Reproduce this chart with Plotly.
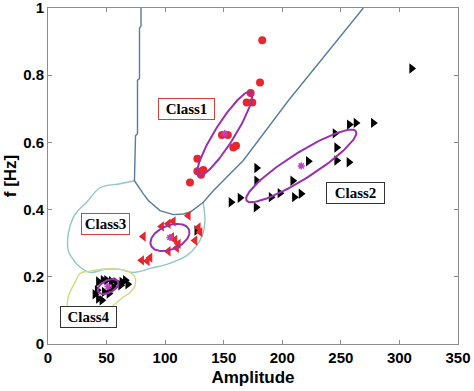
import numpy as np
import plotly.graph_objects as go

# ---------------- data ----------------
x_ticks = [0, 50, 100, 150, 200, 250, 300, 350]
y_ticks = [0, 0.2, 0.4, 0.6, 0.8, 1]
y_tick_text = ["0", "0.2", "0.4", "0.6", "0.8", "1"]

class1_x = [182.9, 181.0, 173.0, 169.6, 174.4, 148.5, 153.5, 158.2, 160.5, 127.5, 127.5, 132.6, 121.2, 130.6]
class1_y = [0.904, 0.778, 0.747, 0.719, 0.719, 0.622, 0.622, 0.585, 0.590, 0.551, 0.514, 0.518, 0.481, 0.504]

class2_x = [310.4, 257.2, 262.9, 277.7, 245.0, 246.4, 246.4, 256.9, 222.2, 208.9, 178.1, 178.1,
            156.2, 163.9, 177.6, 190.4, 198.0, 210.3, 216.0, 127.0]
class2_y = [0.820, 0.653, 0.658, 0.658, 0.627, 0.585, 0.546, 0.541, 0.544, 0.486, 0.524, 0.486,
            0.422, 0.435, 0.407, 0.437, 0.449, 0.437, 0.447, 0.338]

class3_x = [119.8, 107.0, 102.7, 97.0, 81.4, 128.3, 129.8, 125.5, 108.4, 111.3, 109.8, 102.7,
            87.1, 80.0, 84.8, 105.6]
class3_y = [0.382, 0.365, 0.358, 0.350, 0.320, 0.347, 0.333, 0.308, 0.310, 0.298, 0.286, 0.276,
            0.257, 0.249, 0.247, 0.318]

class4_x = [43, 47, 50, 54, 58, 63, 66, 62, 68, 42, 40, 43, 46, 48, 53, 56, 52]
class4_y = [0.186, 0.190, 0.190, 0.187, 0.184, 0.185, 0.190, 0.175, 0.178, 0.160, 0.148, 0.135,
            0.130, 0.155, 0.160, 0.168, 0.150]

# Gaussian ellipses: centre x, centre y, major semi-axis (dx, dy), minor/major ratio
ell_cx = [150.8, 216.2, 104.1, 51.2]
ell_cy = [0.626, 0.530, 0.317, 0.171]
ell_ax = [22.45, 46.7, 16.2, 8.5]
ell_ay = [0.1247, 0.103, 0.0238, 0.0149]
ell_ratio = [0.2, 0.2, 0.58, 0.55]

# decision boundaries
bnd_blue_x = [79.4, 79.4, 78.1, 78.1, 76.4, 76.4, 74.7, 73.8, 81.4, 85.6, 95.6, 107.0, 115.5,
              121.2, 132.6, 141.1, 166.7, 205.1, 269.2]
bnd_blue_y = [1.0, 0.946, 0.94, 0.79, 0.785, 0.626, 0.62, 0.486, 0.447, 0.427, 0.397, 0.385,
              0.387, 0.392, 0.422, 0.456, 0.546, 0.724, 1.0]

bnd_teal_x = [73.8, 61.5, 44.4, 33.0, 25.6, 21.6, 17.3, 17.3, 20.2, 27.3, 35.9, 48.7, 61.5, 71.7,
              78.5, 87.1, 101.3, 118.4, 126.3, 132.3, 134.0, 133.2, 132.6]
bnd_teal_y = [0.486, 0.477, 0.465, 0.422, 0.397, 0.377, 0.328, 0.278, 0.258, 0.229, 0.213, 0.222,
              0.222, 0.213, 0.216, 0.225, 0.237, 0.263, 0.290, 0.329, 0.367, 0.403, 0.422]

bnd_yellow_x = [35.9, 48.7, 61.5, 70.0, 74.3, 74.3, 70.0, 62.9, 55.8, 44.4, 27.3, 17.3, 17.3, 23.1, 27.3, 35.9]
bnd_yellow_y = [0.217, 0.223, 0.222, 0.213, 0.198, 0.174, 0.153, 0.136, 0.115, 0.094, 0.088, 0.100,
                0.140, 0.184, 0.210, 0.217]

# ---------------- figure ----------------
W, H = 474, 391
ML, MR, MT, MB = 48, 16, 8, 47
PW, PH = W - ML - MR, H - MT - MB
SX, SY = PW / 350.0, PH / 1.0

fig = go.Figure()

fig.add_trace(go.Scatter(x=bnd_teal_x, y=bnd_teal_y, mode="lines",
                         line=dict(color="#8fcac0", width=1.4), line_shape="spline"))
fig.add_trace(go.Scatter(x=bnd_yellow_x, y=bnd_yellow_y, mode="lines",
                         line=dict(color="#d2dc7e", width=1.4), line_shape="spline"))
fig.add_trace(go.Scatter(x=bnd_blue_x, y=bnd_blue_y, mode="lines",
                         line=dict(color="#567d9c", width=1.4)))

fig.add_trace(go.Scatter(x=class1_x, y=class1_y, mode="markers",
                         marker=dict(symbol="circle", color="#e8262b", size=8)))
fig.add_trace(go.Scatter(x=class2_x, y=class2_y, mode="markers",
                         marker=dict(symbol="triangle-right", color="black", size=9)))
fig.add_trace(go.Scatter(x=class3_x, y=class3_y, mode="markers",
                         marker=dict(symbol="triangle-left", color="#e8262b", size=9)))
fig.add_trace(go.Scatter(x=class4_x, y=class4_y, mode="markers",
                         marker=dict(symbol="triangle-right", color="black", size=9)))

t = np.linspace(0, 2 * np.pi, 120)
for cx, cy, ax, ay, r in zip(ell_cx, ell_cy, ell_ax, ell_ay, ell_ratio):
    mx, my = ax * SX, ay * SY
    px, py = -my * r, mx * r
    ex = cx + (mx * np.cos(t) + px * np.sin(t)) / SX
    ey = cy + (my * np.cos(t) + py * np.sin(t)) / SY
    fig.add_trace(go.Scatter(x=ex, y=ey, mode="lines",
                             line=dict(color="#9b30ae", width=2)))

fig.add_trace(go.Scatter(x=ell_cx, y=ell_cy, mode="markers",
                         marker=dict(symbol="asterisk-open", size=6, color="#c23fc0",
                                     line=dict(color="#c23fc0", width=1.5))))

label_font = dict(family="Liberation Serif", size=15, color="black")
def add_label(text, x, y, color, w):
    fig.add_annotation(x=x, y=y, xref="x", yref="y", text="<b>" + text + "</b>",
                       showarrow=False, font=label_font, bgcolor="white",
                       bordercolor=color, borderwidth=1, borderpad=2,
                       width=w, height=16, xanchor="center", yanchor="middle")

add_label("Class1", 118.2, 0.698, "#d9403c", 51)
add_label("Class2", 262.5, 0.448, "#333333", 53)
add_label("Class3", 48.7, 0.356, "#d9403c", 43)
add_label("Class4", 34.7, 0.079, "#333333", 51)

axis_common = dict(showline=True, linecolor="#8c8c8c", linewidth=1, mirror="ticks",
                   ticks="inside", ticklen=4, tickcolor="#8c8c8c", showgrid=False,
                   zeroline=False, automargin=False, ticklabeloverflow="allow",
                   tickfont=dict(family="Liberation Sans", size=15, color="black", weight="bold"))

fig.update_xaxes(range=[0, 350], tickvals=x_ticks,
                 title=dict(text="Amplitude", standoff=6,
                            font=dict(family="Liberation Sans", size=17, color="black", weight="bold")),
                 **axis_common)
fig.update_yaxes(range=[0, 1], tickvals=y_ticks, ticktext=y_tick_text,
                 title=dict(text="f [Hz]", standoff=2,
                            font=dict(family="Liberation Sans", size=17, color="black", weight="bold")),
                 **axis_common)

fig.update_layout(width=W, height=H, margin=dict(l=ML, r=MR, t=MT, b=MB),
                  plot_bgcolor="white", paper_bgcolor="white", showlegend=False)

fig.write_html("out.html", config={"displayModeBar": False},
               post_script="document.body.style.margin='0px';")
